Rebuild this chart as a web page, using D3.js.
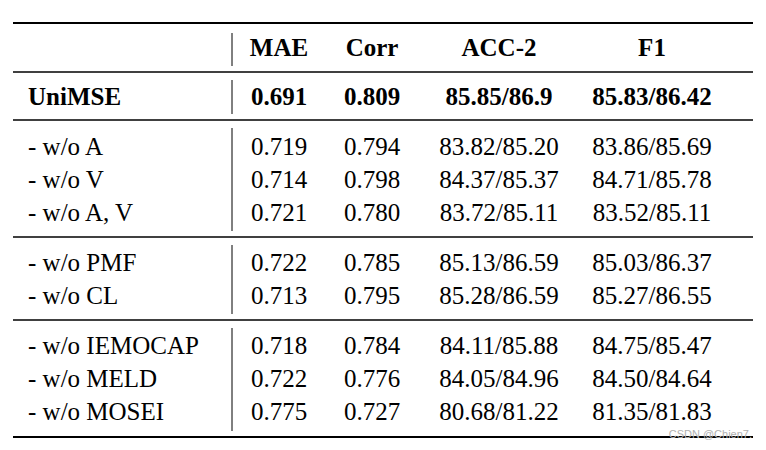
<!DOCTYPE html>
<html><head><meta charset="utf-8">
<script src="https://cdn.jsdelivr.net/npm/d3@7"></script>
<style>body{margin:0;background:#fff} svg text.t{font-family:"Liberation Serif","Times New Roman","DejaVu Serif",serif;font-size:25px}</style></head>
<body><svg id="c" width="766" height="450"></svg>
<script>
const columns = ["MAE","Corr","ACC-2","F1"];
const methods = ["UniMSE","- w/o A","- w/o V","- w/o A, V","- w/o PMF","- w/o CL","- w/o IEMOCAP","- w/o MELD","- w/o MOSEI"];
const mae = ["0.691","0.719","0.714","0.721","0.722","0.713","0.718","0.722","0.775"];
const corr = ["0.809","0.794","0.798","0.780","0.785","0.795","0.784","0.776","0.727"];
const acc2 = ["85.85/86.9","83.82/85.20","84.37/85.37","83.72/85.11","85.13/86.59","85.28/86.59","84.11/85.88","84.05/84.96","80.68/81.22"];
const f1 = ["85.83/86.42","83.86/85.69","84.71/85.78","83.52/85.11","85.03/86.37","85.27/86.55","84.75/85.47","84.50/84.64","81.35/81.83"];
const cols = [mae,corr,acc2,f1];

const svg = d3.select("#c");
const x = d3.scaleOrdinal().domain(columns).range([279,372,499,652]);
const rowY = [96,146,179,212,262,295,345,378,411];
const groupSpans = [[72,120],[120,237],[237,320],[320,437]];
const y = d3.scaleOrdinal().domain(d3.range(methods.length)).range(rowY);

[[23,2],[72,1.3],[120,1.3],[237,1.3],[320,1.3],[437,2]].forEach(([yy,w])=>{
  svg.append("line").attr("x1",13).attr("x2",753).attr("y1",yy).attr("y2",yy).attr("stroke","#000").attr("stroke-width",w);
});
[[33,66]].concat(groupSpans.map(([a,b])=>[a+8,b-6])).forEach(([a,b])=>{
  svg.append("line").attr("x1",232).attr("x2",232).attr("y1",a).attr("y2",b).attr("stroke","#000").attr("stroke-width",1);
});
svg.selectAll("text.h").data(columns).join("text").attr("class","h t")
  .attr("x",d=>x(d)).attr("y",47).attr("dy","0.35em").attr("text-anchor","middle")
  .attr("font-weight","bold").text(d=>d);
svg.selectAll("text.m").data(methods).join("text").attr("class","m t")
  .attr("x",28).attr("y",(d,i)=>y(i)).attr("dy","0.35em")
  .attr("font-weight",(d,i)=>i===0?"bold":"normal").text(d=>d);
columns.forEach((c,ci)=>{
  svg.selectAll("text.c"+ci).data(cols[ci]).join("text").attr("class","c"+ci+" t")
    .attr("x",x(c)).attr("y",(d,i)=>y(i)).attr("dy","0.35em").attr("text-anchor","middle")
    .attr("font-weight",(d,i)=>i===0?"bold":"normal").text(d=>d);
});
svg.append("text").attr("x",752).attr("y",438).attr("text-anchor","end")
  .style("font-family","'Liberation Sans',sans-serif").style("font-size","11px").attr("fill","#b0b0b0").text("CSDN @Chien7.");
</script></body></html>
